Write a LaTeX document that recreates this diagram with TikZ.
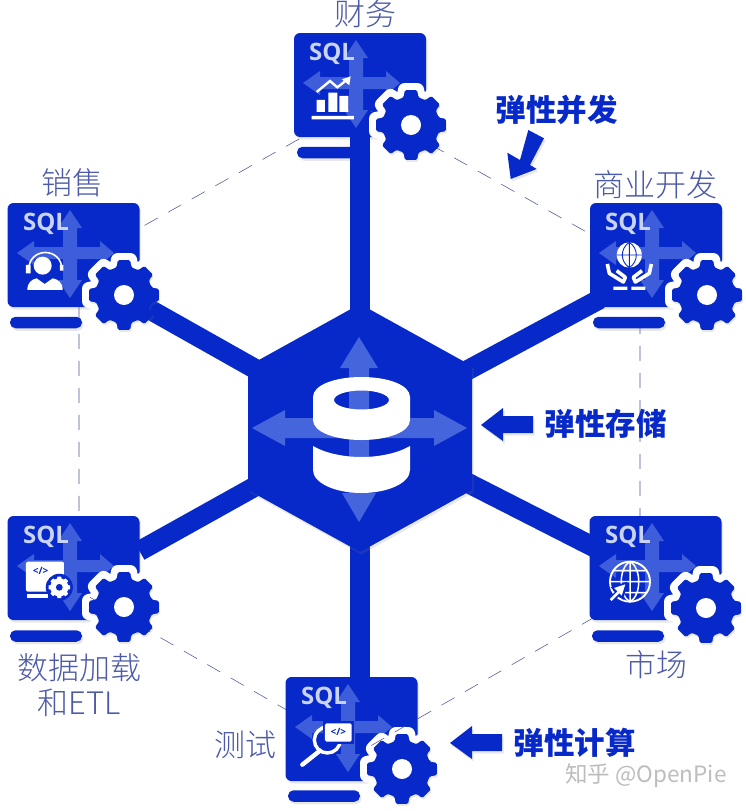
\documentclass[tikz,border=0pt]{standalone}
\usepackage{fontspec}
\usetikzlibrary{shadows,calc}
\setmainfont{Liberation Sans}
\newfontfamily\cjk{Noto Sans CJK SC}
\newfontfamily\cjkthin{Noto Sans CJK SC Light}
\newfontfamily\sqlfont{Open Sans}
\definecolor{brand}{HTML}{0829C9}
\definecolor{pale}{HTML}{4565DC}
\definecolor{palebox}{HTML}{3D5DDA}
\definecolor{sqlc}{HTML}{C9D3F3}
\definecolor{labelc}{HTML}{4C5AA8}
\definecolor{dashc}{HTML}{4A5796}
\definecolor{markc}{HTML}{BDBDBD}
\tikzset{
  softshadow/.style={drop shadow={opacity=.18,shadow xshift=1.5pt,shadow yshift=-2.5pt}},
  panelbox/.style={fill=brand,rounded corners=6pt,softshadow,minimum width=132pt,minimum height=104pt,inner sep=0pt,outer sep=0pt},
  barbox/.style={fill=brand,rounded corners=5.5pt,minimum width=72pt,minimum height=11.5pt,inner sep=0pt,softshadow},
  link/.style={draw=brand,line width=20pt},
  hexlink/.style={draw=dashc,line width=.55pt,dash pattern=on 15pt off 12pt},
  sqltext/.style={text=sqlc,font=\sqlfont\bfseries\fontsize{24}{24}\selectfont,inner sep=0pt},
  nametext/.style={text=labelc,font=\cjkthin\fontsize{31}{35}\selectfont,inner sep=0pt,align=center},
  boldtext/.style={text=brand,font=\cjk\bfseries\fontsize{30.5}{33}\selectfont,inner sep=0pt},
  codetext/.style={text=brand,font=\sqlfont\bfseries\fontsize{10}{10}\selectfont,inner sep=0pt},
  zoomgrid/.style={x=.3333pt,y=-.3333pt},
}
% gear outline round the origin
\newcommand{\gearpath}{(-15:28.5)\foreach \a in {0,45,...,315}{ -- (\a-15:28.5) -- (\a-10:35.5) -- (\a+10:35.5) -- (\a+15:28.5) -- (\a+22.5:28.5)} -- cycle}
% cross of pale arrows, origin = top-left of a panel
\newcommand{\crossarrows}{%
  \fill[palebox] (62,7) -- (74,25) -- (69,25) -- (69,77) -- (74,77) -- (62,95) -- (50,77) -- (55,77) -- (55,25) -- (50,25) -- cycle;
  \fill[palebox] (9,50) -- (26,38) -- (26,44) -- (92,44) -- (92,38) -- (106,50) -- (92,62) -- (92,56) -- (26,56) -- (26,62) -- cycle;
}
\begin{document}
\begin{tikzpicture}[x=1pt,y=-1pt,line cap=butt]
\useasboundingbox (0,0) rectangle (745,811);
\fill[white] (0,0) rectangle (745,811);

% anchors
\coordinate (hub) at (360,428);
\coordinate (vT) at (360,105);
\coordinate (vL) at (79,262);
\coordinate (vR) at (640,262);
\coordinate (vBL) at (79,591);
\coordinate (vBR) at (640,591);
\coordinate (vB) at (360,752);
\coordinate (gFin) at (411,125);
\coordinate (gSal) at (124,295);
\coordinate (gBiz) at (707,295);
\coordinate (gDat) at (124,607);
\coordinate (gMkt) at (706,608);
\coordinate (gTst) at (402,769);

% dashed hexagon
\draw[hexlink] (vT) -- (vR) -- (vBR) -- (vB) -- (vBL) -- (vL) -- cycle;

% panels
\node[panelbox] (pFin) at (360,85) {};
\node[panelbox] (pSal) at (73.5,255) {};
\node[panelbox] (pBiz) at (656,255) {};
\node[panelbox] (pDat) at (73.5,568) {};
\node[panelbox] (pMkt) at (655.5,568) {};
\node[panelbox] (pTst) at (351.5,729) {};
\node[barbox] (bFin) at (333,152.5) {};
\node[barbox] (bSal) at (46,322.5) {};
\node[barbox] (bBiz) at (629,322.5) {};
\node[barbox] (bDat) at (46,636) {};
\node[barbox] (bMkt) at (628,636) {};
\node[barbox] (bTst) at (324,796) {};

% arrows and SQL
\foreach \nm/\bx/\by in {F/294/33,S/8/203,B/590/203,D/8/516,M/590/516,T/286/677}{
  \begin{scope}[shift={(\bx,\by)}]
    \crossarrows
    \node[sqltext] at (38,21) {SQL};
  \end{scope}
}

% gear halos
\foreach \g in {gFin,gSal,gBiz,gDat,gMkt,gTst}{
  \begin{scope}[shift={(\g)}]
    \draw[white,line width=14pt,line join=round,fill=white] \gearpath;
  \end{scope}
}
% dashes that run across a halo
\foreach \g in {gFin,gDat,gTst}{
  \begin{scope}
    \clip (\g) circle (43);
    \draw[hexlink] (vT) -- (vR) -- (vBR) -- (vB) -- (vBL) -- (vL) -- cycle;
  \end{scope}
}

% connectors
\path[link] (hub) -- (pFin.south);
\path[link] (hub) -- (gSal);
\path[link] (hub) -- ($(pBiz.south west)+(10,-8)$);
\path[link] (hub) -- ($(pDat.east)+(0,-17)$);
\path[link] (hub) -- ($(pMkt.west)+(10,-18)$);
\path[link] (hub) -- (pTst.north -| hub);

% gears
\foreach \g in {gFin,gSal,gBiz,gDat,gMkt,gTst}{
  \begin{scope}[shift={(\g)}]
    \fill[brand,rounded corners=1.5pt,drop shadow={opacity=.18,shadow xshift=1pt,shadow yshift=-2pt}] \gearpath;
    \fill[white] (0,0) circle (10);
  \end{scope}
}

% hub hexagon
\fill[brand,softshadow] (360,304) -- (472,366) -- (472,490) -- (360,552) -- (248,490) -- (248,366) -- cycle;
\fill[pale] (359,337) -- (378,368) -- (369,368) -- (369,418) -- (434,418) -- (434,410) -- (467,428) -- (434,446) -- (434,438) -- (369,438) -- (369,493) -- (376,493) -- (359,522) -- (342,493) -- (349,493) -- (349,438) -- (285,438) -- (285,446) -- (252,428) -- (285,410) -- (285,418) -- (349,418) -- (349,368) -- (340,368) -- cycle;
\fill[white,even odd rule] (313,397) .. controls (313,385) and (335,377) .. (361.5,377) .. controls (388,377) and (410,385) .. (410,397) -- (410,420) .. controls (410,432) and (388,440) .. (361.5,440) .. controls (335,440) and (313,432) .. (313,420) -- cycle (361.5,400) ellipse (27.5 and 9.5);
\fill[white] (313,446) .. controls (325,453) and (343,457) .. (361.5,457) .. controls (380,457) and (398,453) .. (410,446) -- (410,470) .. controls (410,483) and (388,493) .. (361.5,493) .. controls (335,493) and (313,483) .. (313,470) -- cycle;

% icon: finance
\begin{scope}[shift={(280,0)},zoomgrid]
  \fill[white] (110,300) rectangle (135,336) (145,278) rectangle (172,336) (178,288) rectangle (205,336) (95,348) rectangle (222,358);
  \draw[white,line width=2.4pt] (110,276) -- (150,243) -- (172,262) -- (200,240);
  \fill[white] (212,229) -- (208,256) -- (186,238) -- cycle;
\end{scope}
% icon: sales
\begin{scope}[shift={(0,190)},zoomgrid]
  \draw[white,line width=1.6pt] (86,240) .. controls (86,170) and (186,170) .. (186,240);
  \fill[white] (78,225) rectangle (92,250) (180,225) rectangle (190,242);
  \fill[white] (128,227) circle (9pt);
  \fill[white] (82,300) .. controls (82,278) and (95,268) .. (110,265) -- (134,282) -- (158,265) .. controls (175,268) and (188,278) .. (188,300) -- cycle;
\end{scope}
% icon: business development
\begin{scope}[shift={(570,190)},zoomgrid]
  \fill[white] (178,195) circle (12.7pt);
  \draw[brand,line width=.9pt] (178,157) -- (178,233) (140,195) -- (216,195) (178,157) .. controls (150,175) and (150,215) .. (178,233) (178,157) .. controls (206,175) and (206,215) .. (178,233);
  \draw[white,line width=3.6pt,line join=round] (112,222) -- (118,250) -- (160,276) -- (166,262) -- (140,242);
  \draw[white,line width=3.6pt,line join=round] (244,222) -- (238,250) -- (196,276) -- (190,262) -- (216,242);
  \fill[white] (130,290) rectangle (172,300) (184,290) rectangle (226,300);
\end{scope}
% icon: data loading
\begin{scope}[shift={(0,500)},zoomgrid]
  \fill[white,rounded corners=2pt] (78,185) rectangle (192,275);
  \fill[white] (82,283) rectangle (145,293);
  \node[codetext] (cDat) at (122,212) {</>};
  \begin{scope}[shift={(178,262)},scale=.34]
    \fill[brand] (0,0) circle (120);
    \fill[white] (0,0) circle (80);
    \foreach \a in {0,45,...,315}{\fill[white] (\a-15:76) -- (\a-10:96) -- (\a+10:96) -- (\a+15:76) -- cycle;}
    \fill[brand] (0,0) circle (30);
  \end{scope}
\end{scope}
% icon: market
\begin{scope}[shift={(570,500)},zoomgrid]
  \draw[white,line width=1.9pt] (180,245) circle (20pt);
  \draw[white,line width=1.5pt] (180,184) -- (180,306) (120,245) -- (240,245) (180,184) .. controls (145,205) and (145,285) .. (180,306) (180,184) .. controls (215,205) and (215,285) .. (180,306) (130,212) -- (230,212) (130,278) -- (230,278);
  \draw[brand,line width=6pt] (118,305) -- (168,255);
  \fill[brand] (172,245) -- (122,262) -- (160,300) -- cycle;
  \draw[white,line width=2.6pt] (122,300) -- (150,272);
  \fill[white] (166,253) -- (132,264) -- (155,287) -- cycle;
\end{scope}
% icon: testing
\begin{scope}[shift={(270,660)},zoomgrid]
  \draw[white,line width=3.4pt] (172,240) circle (13pt);
  \draw[white,line width=4.4pt,line cap=round] (150,272) -- (97,314);
  \fill[brand] (158,182) rectangle (252,252);
  \fill[white,rounded corners=1.5pt] (165,190) rectangle (245,245);
  \node[codetext] (cTst) at (205,215) {</>};
\end{scope}

% annotation arrows
\fill[brand,softshadow] (528.3,130) -- (520,160) -- (507.3,152.7) -- (510.7,179) -- (536.7,169) -- (530,165) -- (544,138.3) -- cycle;
\fill[brand,softshadow] (481,425) -- (503,408) -- (503,416) -- (533,416) -- (533,433) -- (503,433) -- (503,441) -- cycle;
\fill[brand,softshadow] (450,743) -- (472,726) -- (472,734) -- (502,734) -- (502,751) -- (472,751) -- (472,759) -- cycle;

% texts
\node[nametext] (tFin) at (365.5,14) {财务};
\node[nametext] (tSal) at (72.5,183) {销售};
\node[nametext] (tBiz) at (655.5,185) {商业开发};
\node[nametext] (tDat) at (79.5,685) {数据加载\\和ETL};
\node[nametext] (tMkt) at (656,665) {市场};
\node[nametext] (tTst) at (245,745) {测试};
\node[boldtext] (tCon) at (556.5,110) {弹性并发};
\node[boldtext] (tSto) at (605.5,424) {弹性存储};
\node[boldtext] (tCmp) at (574.5,743) {弹性计算};
\node[text=markc,font=\cjk\fontsize{22.5}{22}\selectfont,inner sep=0pt] (tMark) at (646,776) {知乎 @OpenPie};
\end{tikzpicture}
\end{document}
